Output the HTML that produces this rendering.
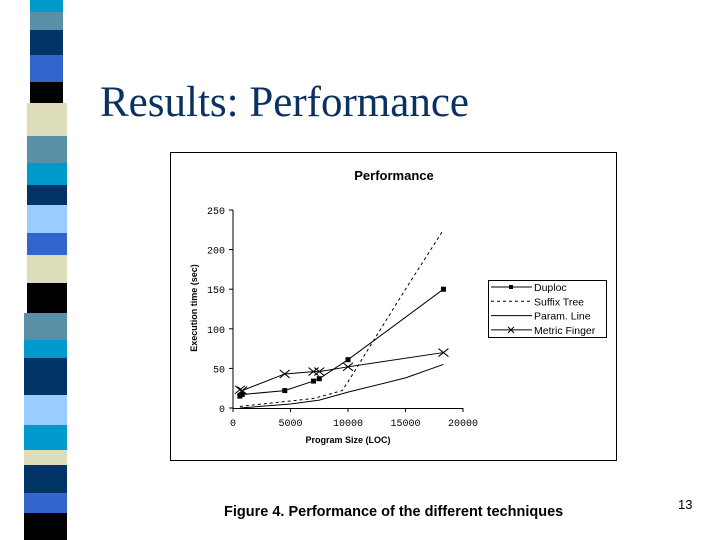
<!DOCTYPE html>
<html><head><meta charset="utf-8"><style>
body{margin:0;width:720px;height:540px;background:#fff;position:relative;overflow:hidden;font-family:"Liberation Sans",sans-serif}
.t{position:absolute}
</style></head><body>
<svg class="t" style="left:0;top:0" width="80" height="540" id="stripe"></svg>
<div class="t" style="left:100px;top:78px;font:43px 'Liberation Serif',serif;color:#0b3160;white-space:nowrap">Results: Performance</div>
<svg class="t" style="left:0;top:0" width="720" height="540" id="chart"></svg>
<div class="t" style="left:224px;top:504px;font:bold 14.5px 'Liberation Sans',sans-serif;white-space:nowrap">Figure 4. Performance of the different techniques</div>
<div class="t" style="left:678px;top:497px;font:13px 'Liberation Sans',sans-serif">13</div>
<script>
const bands=[[0,12,'#0099cc'],[12,30,'#5a8fa8'],[30,55,'#003366'],[55,82,'#3366cc'],[82,103,'#000'],[103,136,'#ddddbb'],[136,163,'#5a8fa8'],[163,185,'#0099cc'],[185,205,'#003366'],[205,233,'#99ccff'],[233,255,'#3366cc'],[255,283,'#ddddbb'],[283,313,'#000'],[313,340,'#5a8fa8'],[340,358,'#0099cc'],[358,395,'#003366'],[395,425,'#99ccff'],[425,450,'#0099cc'],[450,465,'#ddddbb'],[465,493,'#003366'],[493,513,'#3366cc'],[513,540,'#000']];
const NS='http://www.w3.org/2000/svg';
const st=document.getElementById('stripe');
bands.forEach(b=>{const r=document.createElementNS(NS,'rect');


const m=(b[0]+b[1])/2, l=m<100?30:(m<300?27:24), rr=m<100?63:67;
r.setAttribute('x',l);r.setAttribute('y',b[0]);r.setAttribute('width',rr-l);r.setAttribute('height',b[1]-b[0]);r.setAttribute('fill',b[2]);st.appendChild(r);});

const xTicks=[0,5000,10000,15000,20000];
const yTicks=[0,50,100,150,200,250];
const dupX=[600,800,4500,7000,7500,10000,18300];
const dupY=[15,17,22,34,37,61,150];
const sufX=[600,7000,9500,10300,12000,15000,18300];
const sufY=[2,12,22,40,80,150,225];
const parX=[600,5000,7500,10000,15000,18300];
const parY=[0,5,10,20,38,55];
const metX=[600,800,4500,7000,7500,10000,18300];
const metY=[23,22,43,46,46,52,70];

const sx=v=>233+v*230/20000, sy=v=>408-v*198/250;
const c=document.getElementById('chart');
function el(tag,attrs,name,txt){const e=document.createElementNS(NS,tag);for(const k in attrs)e.setAttribute(k,attrs[k]);


if(txt!==undefined)e.textContent=txt;c.appendChild(e);return e;}
el('rect',{x:170.5,y:152.5,width:446,height:308,fill:'none',stroke:'#000','stroke-width':1},'chart-frame');
el('text',{x:394,y:180,'text-anchor':'middle','font-size':13,'font-weight':'bold','font-family':'Liberation Sans'},'chart-title','Performance');
el('line',{x1:233,y1:210,x2:233,y2:408.5,stroke:'#000'},'y-axis');
el('line',{x1:233,y1:408.5,x2:463,y2:408.5,stroke:'#000'},'x-axis');
yTicks.forEach(v=>{el('line',{x1:229,x2:233,y1:sy(v),y2:sy(v),stroke:'#000'},'y-tick');
el('text',{x:225,y:sy(v)+4,'text-anchor':'end','font-size':10,'font-family':'Liberation Mono'},'y-tick-label',v);});
xTicks.forEach(v=>{el('line',{x1:sx(v),x2:sx(v),y1:408,y2:412,stroke:'#000'},'x-tick');
el('text',{x:sx(v),y:426,'text-anchor':'middle','font-size':10,'font-family':'Liberation Mono'},'x-tick-label',v);});
el('text',{x:348,y:443,'text-anchor':'middle','font-size':9,'font-weight':'bold'},'x-axis-title','Program Size (LOC)');
el('text',{x:197,y:308,'text-anchor':'middle','font-size':9,'font-weight':'bold',transform:'rotate(-90 197 308)'},'y-axis-title','Execution time (sec)');
function line(X,Y,name,dash){el('polyline',{points:X.map((x,i)=>sx(x)+','+sy(Y[i])).join(' '),fill:'none',stroke:'#000','stroke-width':1,'stroke-dasharray':dash||'none'},name);}
line(dupX,dupY,'series-duploc');line(sufX,sufY,'series-suffix-tree','3,3');line(parX,parY,'series-param-line');line(metX,metY,'series-metric-finger');
dupX.forEach((x,i)=>el('rect',{x:sx(x)-2.5,y:sy(dupY[i])-2.5,width:5,height:5,fill:'#000'},'duploc-point'));
metX.forEach((x,i)=>{const X=sx(x),Y=sy(metY[i]);el('path',{d:`M${X-5},${Y-4}L${X+5},${Y+4}M${X-5},${Y+4}L${X+5},${Y-4}`,stroke:'#000',fill:'none'},'metric-finger-point');});
el('rect',{x:488.5,y:280.5,width:118,height:57,fill:'#fff',stroke:'#000'},'legend-box');
const leg=[['Duploc','none'],['Suffix Tree','3,3'],['Param. Line','none'],['Metric Finger','none']];
leg.forEach((l,i)=>{const y=287+i*14.3;el('line',{x1:491,x2:532,y1:y,y2:y,stroke:'#000','stroke-dasharray':l[1]},'legend-line');
if(i==0)el('rect',{x:509,y:y-2,width:4,height:4},'legend-marker');
if(i==3)el('path',{d:`M${508},${y-3}L${514},${y+3}M${508},${y+3}L${514},${y-3}`,stroke:'#000'},'legend-marker');
el('text',{x:534,y:y+4,'font-size':10.5},'legend-entry',l[0]);});
</script>
</body></html>
